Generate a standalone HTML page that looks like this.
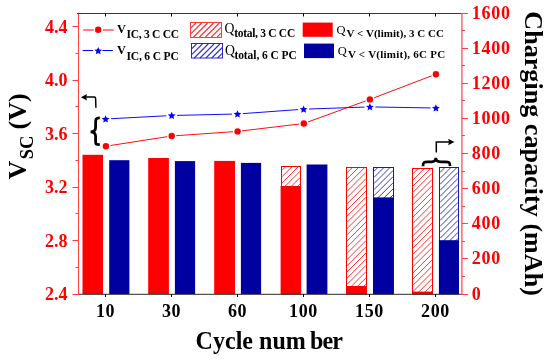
<!DOCTYPE html>
<html><head><meta charset="utf-8"><style>
html,body{margin:0;padding:0;background:#fff;}
svg{display:block;}
text{font-family:"Liberation Serif",serif;}
.tl{font-size:18px;font-weight:bold;fill:#ff0000;}
.rl{letter-spacing:0.7px;}
.xl{font-size:18px;font-weight:bold;fill:#000;letter-spacing:0.6px;}
.ti{font-size:26px;font-weight:bold;fill:#000;}
.tsub{font-size:18.5px;}
.lg{fill:#000;}
.lv{font-size:12.3px;font-weight:bold;}
.lq{font-size:13.8px;font-weight:normal;}
.ls{font-size:11.6px;font-weight:bold;}
.ls3{font-size:11.5px;font-weight:bold;}
.lq2{font-size:12.5px;font-weight:normal;}
.ls2{font-size:11px;font-weight:bold;}
.lt{font-weight:normal;}
</style></head><body>
<svg width="550" height="359" viewBox="0 0 550 359">
<rect width="550" height="359" fill="#fff"/>
<rect x="82.50" y="154.80" width="20.50" height="139.20" fill="#ff0000"/>
<rect x="109.20" y="160.20" width="20.20" height="133.80" fill="#0000a0"/>
<rect x="148.20" y="158.00" width="20.70" height="136.00" fill="#ff0000"/>
<rect x="174.90" y="161.10" width="20.20" height="132.90" fill="#0000a0"/>
<rect x="214.20" y="160.90" width="20.80" height="133.10" fill="#ff0000"/>
<rect x="240.90" y="162.90" width="20.20" height="131.10" fill="#0000a0"/>
<path d="M282.00,170.40 L285.40,167.00 M282.00,176.70 L291.70,167.00 M282.00,183.00 L298.00,167.00 M282.00,189.30 L300.00,171.30 M282.00,195.60 L300.00,177.60 M282.00,201.90 L300.00,183.90 M282.00,208.20 L300.00,190.20 M282.00,214.50 L300.00,196.50 M282.00,220.80 L300.00,202.80 M282.00,227.10 L300.00,209.10 M282.00,233.40 L300.00,215.40 M282.00,239.70 L300.00,221.70 M282.00,246.00 L300.00,228.00 M282.00,252.30 L300.00,234.30 M282.00,258.60 L300.00,240.60 M282.00,264.90 L300.00,246.90 M282.00,271.20 L300.00,253.20 M282.00,277.50 L300.00,259.50 M282.00,283.80 L300.00,265.80 M282.00,290.10 L300.00,272.10 M284.40,294.00 L300.00,278.40 M290.70,294.00 L300.00,284.70 M297.00,294.00 L300.00,291.00" stroke="#ff0000" stroke-width="1.00" opacity="0.80" fill="none"/>
<rect x="281.5" y="166.5" width="19.0" height="127.5" fill="none" stroke="#ff0000" stroke-width="1"/>
<rect x="280.60" y="186.00" width="20.50" height="108.00" fill="#ff0000"/>
<rect x="306.60" y="164.50" width="20.80" height="129.50" fill="#0000a0"/>
<path d="M347.00,172.80 L351.80,168.00 M347.00,179.00 L358.00,168.00 M347.00,185.20 L364.20,168.00 M347.00,191.40 L366.00,172.40 M347.00,197.60 L366.00,178.60 M347.00,203.80 L366.00,184.80 M347.00,210.00 L366.00,191.00 M347.00,216.20 L366.00,197.20 M347.00,222.40 L366.00,203.40 M347.00,228.60 L366.00,209.60 M347.00,234.80 L366.00,215.80 M347.00,241.00 L366.00,222.00 M347.00,247.20 L366.00,228.20 M347.00,253.40 L366.00,234.40 M347.00,259.60 L366.00,240.60 M347.00,265.80 L366.00,246.80 M347.00,272.00 L366.00,253.00 M347.00,278.20 L366.00,259.20 M347.00,284.40 L366.00,265.40 M347.00,290.60 L366.00,271.60 M349.80,294.00 L366.00,277.80 M356.00,294.00 L366.00,284.00 M362.20,294.00 L366.00,290.20" stroke="#ff0000" stroke-width="1.00" opacity="0.80" fill="none"/>
<rect x="346.5" y="167.5" width="20.0" height="126.5" fill="none" stroke="#ff0000" stroke-width="1"/>
<path d="M374.00,171.30 L377.30,168.00 M374.00,177.40 L383.40,168.00 M374.00,183.50 L389.50,168.00 M374.00,189.60 L393.00,170.60 M374.00,195.70 L393.00,176.70 M374.00,201.80 L393.00,182.80 M374.00,207.90 L393.00,188.90 M374.00,214.00 L393.00,195.00 M374.00,220.10 L393.00,201.10 M374.00,226.20 L393.00,207.20 M374.00,232.30 L393.00,213.30 M374.00,238.40 L393.00,219.40 M374.00,244.50 L393.00,225.50 M374.00,250.60 L393.00,231.60 M374.00,256.70 L393.00,237.70 M374.00,262.80 L393.00,243.80 M374.00,268.90 L393.00,249.90 M374.00,275.00 L393.00,256.00 M374.00,281.10 L393.00,262.10 M374.00,287.20 L393.00,268.20 M374.00,293.30 L393.00,274.30 M379.40,294.00 L393.00,280.40 M385.50,294.00 L393.00,286.50 M391.60,294.00 L393.00,292.60" stroke="#2020c0" stroke-width="1.00" opacity="0.90" fill="none"/>
<rect x="373.5" y="167.5" width="20.0" height="126.5" fill="none" stroke="#1818b8" stroke-width="1"/>
<rect x="346.30" y="286.00" width="20.40" height="8.00" fill="#ff0000"/>
<rect x="373.10" y="197.40" width="20.40" height="96.60" fill="#0000a0"/>
<path d="M413.00,173.70 L417.70,169.00 M413.00,179.90 L423.90,169.00 M413.00,186.10 L430.10,169.00 M413.00,192.30 L432.00,173.30 M413.00,198.50 L432.00,179.50 M413.00,204.70 L432.00,185.70 M413.00,210.90 L432.00,191.90 M413.00,217.10 L432.00,198.10 M413.00,223.30 L432.00,204.30 M413.00,229.50 L432.00,210.50 M413.00,235.70 L432.00,216.70 M413.00,241.90 L432.00,222.90 M413.00,248.10 L432.00,229.10 M413.00,254.30 L432.00,235.30 M413.00,260.50 L432.00,241.50 M413.00,266.70 L432.00,247.70 M413.00,272.90 L432.00,253.90 M413.00,279.10 L432.00,260.10 M413.00,285.30 L432.00,266.30 M413.00,291.50 L432.00,272.50 M416.70,294.00 L432.00,278.70 M422.90,294.00 L432.00,284.90 M429.10,294.00 L432.00,291.10" stroke="#ff0000" stroke-width="1.00" opacity="0.80" fill="none"/>
<rect x="412.5" y="168.5" width="20.0" height="125.5" fill="none" stroke="#ff0000" stroke-width="1"/>
<path d="M440.00,172.40 L444.40,168.00 M440.00,178.40 L450.40,168.00 M440.00,184.40 L456.40,168.00 M440.00,190.40 L458.00,172.40 M440.00,196.40 L458.00,178.40 M440.00,202.40 L458.00,184.40 M440.00,208.40 L458.00,190.40 M440.00,214.40 L458.00,196.40 M440.00,220.40 L458.00,202.40 M440.00,226.40 L458.00,208.40 M440.00,232.40 L458.00,214.40 M440.00,238.40 L458.00,220.40 M440.00,244.40 L458.00,226.40 M440.00,250.40 L458.00,232.40 M440.00,256.40 L458.00,238.40 M440.00,262.40 L458.00,244.40 M440.00,268.40 L458.00,250.40 M440.00,274.40 L458.00,256.40 M440.00,280.40 L458.00,262.40 M440.00,286.40 L458.00,268.40 M440.00,292.40 L458.00,274.40 M444.40,294.00 L458.00,280.40 M450.40,294.00 L458.00,286.40 M456.40,294.00 L458.00,292.40" stroke="#2020c0" stroke-width="1.00" opacity="0.90" fill="none"/>
<rect x="439.5" y="167.5" width="19.0" height="126.5" fill="none" stroke="#1818b8" stroke-width="1"/>
<rect x="412.30" y="291.60" width="20.60" height="2.40" fill="#ff0000"/>
<rect x="438.90" y="240.20" width="20.10" height="53.80" fill="#0000a0"/>
<line x1="77.0" y1="13.5" x2="461.9" y2="13.5" stroke="#3a3a3a" stroke-width="1"/>
<line x1="78.5" y1="294.3" x2="461.9" y2="294.3" stroke="#2a2a2a" stroke-width="1"/>
<line x1="78.5" y1="14.0" x2="78.5" y2="294.8" stroke="#ff4646" stroke-width="1.1"/>
<line x1="461.9" y1="13.0" x2="461.9" y2="294.8" stroke="#ff5a64" stroke-width="1.4"/>
<line x1="105.5" y1="294.0" x2="105.5" y2="297.0" stroke="#000" stroke-width="1"/>
<line x1="105.5" y1="13.5" x2="105.5" y2="16.5" stroke="#000" stroke-width="1"/>
<line x1="171.5" y1="294.0" x2="171.5" y2="297.0" stroke="#000" stroke-width="1"/>
<line x1="171.5" y1="13.5" x2="171.5" y2="16.5" stroke="#000" stroke-width="1"/>
<line x1="237.5" y1="294.0" x2="237.5" y2="297.0" stroke="#000" stroke-width="1"/>
<line x1="237.5" y1="13.5" x2="237.5" y2="16.5" stroke="#000" stroke-width="1"/>
<line x1="303.5" y1="294.0" x2="303.5" y2="297.0" stroke="#000" stroke-width="1"/>
<line x1="303.5" y1="13.5" x2="303.5" y2="16.5" stroke="#000" stroke-width="1"/>
<line x1="369.5" y1="294.0" x2="369.5" y2="297.0" stroke="#000" stroke-width="1"/>
<line x1="369.5" y1="13.5" x2="369.5" y2="16.5" stroke="#000" stroke-width="1"/>
<line x1="435.5" y1="294.0" x2="435.5" y2="297.0" stroke="#000" stroke-width="1"/>
<line x1="435.5" y1="13.5" x2="435.5" y2="16.5" stroke="#000" stroke-width="1"/>
<line x1="72.5" y1="294.50" x2="78.5" y2="294.50" stroke="#ff3c3c" stroke-width="1"/>
<line x1="75.5" y1="267.50" x2="78.5" y2="267.50" stroke="#ff3c3c" stroke-width="1"/>
<line x1="72.5" y1="240.50" x2="78.5" y2="240.50" stroke="#ff3c3c" stroke-width="1"/>
<line x1="75.5" y1="213.50" x2="78.5" y2="213.50" stroke="#ff3c3c" stroke-width="1"/>
<line x1="72.5" y1="187.50" x2="78.5" y2="187.50" stroke="#ff3c3c" stroke-width="1"/>
<line x1="75.5" y1="160.50" x2="78.5" y2="160.50" stroke="#ff3c3c" stroke-width="1"/>
<line x1="72.5" y1="133.50" x2="78.5" y2="133.50" stroke="#ff3c3c" stroke-width="1"/>
<line x1="75.5" y1="106.50" x2="78.5" y2="106.50" stroke="#ff3c3c" stroke-width="1"/>
<line x1="72.5" y1="80.50" x2="78.5" y2="80.50" stroke="#ff3c3c" stroke-width="1"/>
<line x1="75.5" y1="53.50" x2="78.5" y2="53.50" stroke="#ff3c3c" stroke-width="1"/>
<line x1="72.5" y1="26.50" x2="78.5" y2="26.50" stroke="#ff3c3c" stroke-width="1"/>
<line x1="461.9" y1="294.50" x2="467.9" y2="294.50" stroke="#ff3c3c" stroke-width="1"/>
<line x1="461.9" y1="276.50" x2="464.9" y2="276.50" stroke="#ff3c3c" stroke-width="1"/>
<line x1="461.9" y1="258.50" x2="467.9" y2="258.50" stroke="#ff3c3c" stroke-width="1"/>
<line x1="461.9" y1="241.50" x2="464.9" y2="241.50" stroke="#ff3c3c" stroke-width="1"/>
<line x1="461.9" y1="223.50" x2="467.9" y2="223.50" stroke="#ff3c3c" stroke-width="1"/>
<line x1="461.9" y1="206.50" x2="464.9" y2="206.50" stroke="#ff3c3c" stroke-width="1"/>
<line x1="461.9" y1="188.50" x2="467.9" y2="188.50" stroke="#ff3c3c" stroke-width="1"/>
<line x1="461.9" y1="171.50" x2="464.9" y2="171.50" stroke="#ff3c3c" stroke-width="1"/>
<line x1="461.9" y1="153.50" x2="467.9" y2="153.50" stroke="#ff3c3c" stroke-width="1"/>
<line x1="461.9" y1="135.50" x2="464.9" y2="135.50" stroke="#ff3c3c" stroke-width="1"/>
<line x1="461.9" y1="118.50" x2="467.9" y2="118.50" stroke="#ff3c3c" stroke-width="1"/>
<line x1="461.9" y1="100.50" x2="464.9" y2="100.50" stroke="#ff3c3c" stroke-width="1"/>
<line x1="461.9" y1="83.50" x2="467.9" y2="83.50" stroke="#ff3c3c" stroke-width="1"/>
<line x1="461.9" y1="65.50" x2="464.9" y2="65.50" stroke="#ff3c3c" stroke-width="1"/>
<line x1="461.9" y1="48.50" x2="467.9" y2="48.50" stroke="#ff3c3c" stroke-width="1"/>
<line x1="461.9" y1="30.50" x2="464.9" y2="30.50" stroke="#ff3c3c" stroke-width="1"/>
<line x1="461.9" y1="13.50" x2="467.9" y2="13.50" stroke="#ff3c3c" stroke-width="1"/>
<text x="67.6" y="300.20" text-anchor="end" class="tl">2.4</text>
<text x="67.6" y="246.74" text-anchor="end" class="tl">2.8</text>
<text x="67.6" y="193.28" text-anchor="end" class="tl">3.2</text>
<text x="67.6" y="139.82" text-anchor="end" class="tl">3.6</text>
<text x="67.6" y="86.36" text-anchor="end" class="tl">4.0</text>
<text x="67.6" y="32.90" text-anchor="end" class="tl">4.4</text>
<text x="471.8" y="299.50" class="tl rl">0</text>
<text x="471.8" y="264.38" class="tl rl">200</text>
<text x="471.8" y="229.25" class="tl rl">400</text>
<text x="471.8" y="194.12" class="tl rl">600</text>
<text x="471.8" y="159.00" class="tl rl">800</text>
<text x="471.8" y="123.88" class="tl rl">1000</text>
<text x="471.8" y="88.75" class="tl rl">1200</text>
<text x="471.8" y="53.62" class="tl rl">1400</text>
<text x="471.8" y="18.50" class="tl rl">1600</text>
<text x="105.5" y="317.4" text-anchor="middle" class="xl">10</text>
<text x="171.5" y="317.4" text-anchor="middle" class="xl">30</text>
<text x="237.5" y="317.4" text-anchor="middle" class="xl">60</text>
<text x="303.5" y="317.4" text-anchor="middle" class="xl">100</text>
<text x="369.5" y="317.4" text-anchor="middle" class="xl">150</text>
<text x="435.5" y="317.4" text-anchor="middle" class="xl">200</text>
<line x1="110.99" y1="118.71" x2="166.31" y2="115.79" stroke="#0000ff" stroke-width="0.95"/>
<line x1="177.10" y1="115.38" x2="232.10" y2="114.12" stroke="#0000ff" stroke-width="0.95"/>
<line x1="242.89" y1="113.61" x2="298.21" y2="109.59" stroke="#0000ff" stroke-width="0.95"/>
<line x1="309.00" y1="109.01" x2="364.50" y2="107.09" stroke="#0000ff" stroke-width="0.95"/>
<line x1="375.30" y1="106.99" x2="430.50" y2="107.91" stroke="#0000ff" stroke-width="0.95"/>
<polygon points="105.60,115.20 106.71,117.77 109.50,118.03 107.39,119.88 108.01,122.62 105.60,121.19 103.19,122.62 103.81,119.88 101.70,118.03 104.49,117.77" fill="#0000ff"/>
<polygon points="171.70,111.70 172.81,114.27 175.60,114.53 173.49,116.38 174.11,119.12 171.70,117.69 169.29,119.12 169.91,116.38 167.80,114.53 170.59,114.27" fill="#0000ff"/>
<polygon points="237.50,110.20 238.61,112.77 241.40,113.03 239.29,114.88 239.91,117.62 237.50,116.19 235.09,117.62 235.71,114.88 233.60,113.03 236.39,112.77" fill="#0000ff"/>
<polygon points="303.60,105.40 304.71,107.97 307.50,108.23 305.39,110.08 306.01,112.82 303.60,111.39 301.19,112.82 301.81,110.08 299.70,108.23 302.49,107.97" fill="#0000ff"/>
<polygon points="369.90,103.10 371.01,105.67 373.80,105.93 371.69,107.78 372.31,110.52 369.90,109.09 367.49,110.52 368.11,107.78 366.00,105.93 368.79,105.67" fill="#0000ff"/>
<polygon points="435.90,104.20 437.01,106.77 439.80,107.03 437.69,108.88 438.31,111.62 435.90,110.19 433.49,111.62 434.11,108.88 432.00,107.03 434.79,106.77" fill="#0000ff"/>
<line x1="110.45" y1="145.50" x2="167.15" y2="136.70" stroke="#ff0000" stroke-width="0.95"/>
<line x1="176.29" y1="135.68" x2="233.01" y2="131.72" stroke="#ff0000" stroke-width="0.95"/>
<line x1="242.17" y1="130.85" x2="299.23" y2="124.05" stroke="#ff0000" stroke-width="0.95"/>
<line x1="308.12" y1="121.92" x2="365.58" y2="100.98" stroke="#ff0000" stroke-width="0.95"/>
<line x1="374.20" y1="97.76" x2="431.60" y2="75.84" stroke="#ff0000" stroke-width="0.95"/>
<circle cx="105.90" cy="146.20" r="3.2" fill="#ff0000"/>
<circle cx="171.70" cy="136.00" r="3.2" fill="#ff0000"/>
<circle cx="237.60" cy="131.40" r="3.2" fill="#ff0000"/>
<circle cx="303.80" cy="123.50" r="3.2" fill="#ff0000"/>
<circle cx="369.90" cy="99.40" r="3.2" fill="#ff0000"/>
<circle cx="435.90" cy="74.20" r="3.2" fill="#ff0000"/>
<path d="M99.8,117.8 C95.8,117.6 95.6,119.5 95.6,123 L95.6,127.5 C95.6,130.5 94,131.8 90.6,131.9 C94,132 95.6,133.3 95.6,136.5 L95.6,141 C95.6,144.5 95.8,144.6 99.8,144.6" fill="none" stroke="#000" stroke-width="2.8"/>
<path d="M95.9,107.2 L95.6,98.5 Q95.6,97.1 94.2,97.1 L85.5,97.1" fill="none" stroke="#000" stroke-width="1.5" stroke-linecap="round"/>
<polygon points="80.9,97.2 87,94.1 86.2,97.2 87,100.4" fill="#000"/>
<path d="M423,166.2 C423,162.4 424,161.8 427.5,161.8 L431.5,161.8 C434.5,161.8 435.8,160.8 435.8,157.7 C435.8,160.8 437.5,161.8 440.5,161.8 L445.5,161.8 C449,161.8 450,162.4 450,166" fill="none" stroke="#000" stroke-width="2.7"/>
<path d="M436.3,152.6 L436.3,142.0 L449,142.0" fill="none" stroke="#000" stroke-width="1.5"/>
<polygon points="454.4,142.0 448.2,138.7 449,142.0 448.2,145.3" fill="#000"/>
<line x1="83.2" y1="30.0" x2="93.8" y2="30.0" stroke="#ff0000" stroke-width="1"/>
<line x1="103" y1="30.0" x2="113.8" y2="30.0" stroke="#ff0000" stroke-width="1"/>
<circle cx="98.2" cy="29.8" r="3.2" fill="#ff0000"/>
<line x1="82.6" y1="50.5" x2="93.1" y2="50.5" stroke="#0000ff" stroke-width="1"/>
<line x1="102.4" y1="50.5" x2="112.9" y2="50.5" stroke="#0000ff" stroke-width="1"/>
<polygon points="98.20,46.90 99.31,49.47 102.10,49.73 99.99,51.58 100.61,54.32 98.20,52.89 95.79,54.32 96.41,51.58 94.30,49.73 97.09,49.47" fill="#0000ff"/>
<text x="117.00" y="32.60"><tspan class="lv">V</tspan><tspan x="126.60" y="37.80" class="ls" textLength="52.50" lengthAdjust="spacing">IC, 3 C CC</tspan></text>
<text x="116.90" y="54.40"><tspan class="lv">V</tspan><tspan x="126.40" y="59.60" class="ls" textLength="52.50" lengthAdjust="spacing">IC, 6 C PC</tspan></text>
<path d="M191.00,27.80 L195.80,23.00 M191.00,33.70 L201.70,23.00 M193.60,37.00 L207.60,23.00 M199.50,37.00 L213.50,23.00 M205.40,37.00 L219.40,23.00 M211.30,37.00 L221.00,27.30 M217.20,37.00 L221.00,33.20" stroke="#ff0000" stroke-width="1.20" opacity="0.80" fill="none"/>
<rect x="190.5" y="22.5" width="31" height="15" fill="none" stroke="#ff3a3a" stroke-width="1"/>
<path d="M192.00,48.50 L196.50,44.00 M192.00,54.35 L202.35,44.00 M194.20,58.00 L208.20,44.00 M200.05,58.00 L214.05,44.00 M205.90,58.00 L219.90,44.00 M211.75,58.00 L222.00,47.75 M217.60,58.00 L222.00,53.60" stroke="#2020c0" stroke-width="1.15" opacity="0.90" fill="none"/>
<rect x="191.5" y="43.5" width="31" height="14.5" fill="none" stroke="#2828c0" stroke-width="1"/>
<text x="224.60" y="32.60"><tspan class="lq">Q</tspan><tspan x="234.20" y="37.30" class="ls3" textLength="61.00" lengthAdjust="spacing">total, 3 C CC</tspan></text>
<text x="224.90" y="54.50"><tspan class="lq">Q</tspan><tspan x="234.40" y="59.00" class="ls3" textLength="62.30" lengthAdjust="spacing">total, 6 C PC</tspan></text>
<rect x="302.7" y="22.6" width="30" height="14.2" fill="#ff0000"/>
<rect x="304" y="43.6" width="30" height="14.5" fill="#0000a0"/>
<text x="336.50" y="33.80"><tspan class="lq2">Q</tspan><tspan x="346.50" y="37.20" class="ls2" textLength="97.50" lengthAdjust="spacing">V &lt; V(limit), 3 C CC</tspan></text>
<text x="337.70" y="54.50"><tspan class="lq2">Q</tspan><tspan x="347.90" y="58.20" class="ls2" textLength="97.20" lengthAdjust="spacing">V &lt; V(limit), 6C PC</tspan></text>
<text transform="translate(0,348.6) scale(0.925,1)" class="ti" x="211.46 230.24 243.24 254.80 262.02 273.58 280.08 294.54 309.02 335.03 348.54 359.24">Cycle number</text>
<text transform="translate(25.7,179.4) rotate(-90)" class="ti">V<tspan x="20.1" y="7.7" class="tsub">SC</tspan><tspan x="43.5" y="-0.2"> (V)</tspan></text>
<text transform="translate(525,11.3) rotate(90)" class="ti" textLength="284.6" lengthAdjust="spacing">Charging capacity (mAh)</text>
</svg>
</body></html>
